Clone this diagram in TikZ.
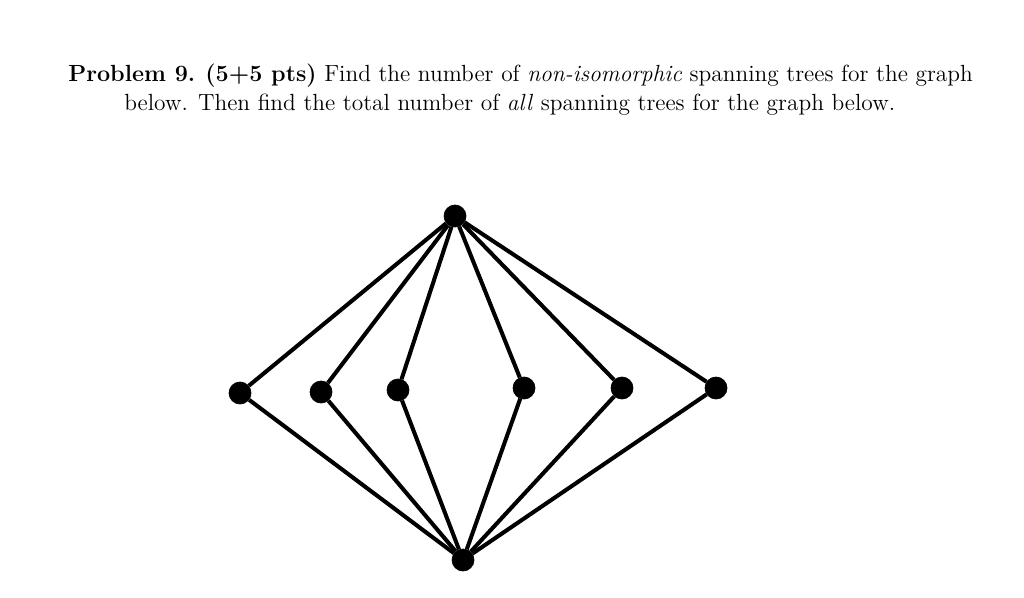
\documentclass[tikz,border=0pt]{standalone}
\usepackage{amsmath,amssymb}
\usepackage{tikz}
\usetikzlibrary{positioning}

\begin{document}
\begin{tikzpicture}[
    x=0.02cm, y=-0.02cm,
    vertex/.style={circle, fill, draw, inner sep=0pt, minimum size=0.44cm},
    edge/.style={line width=2.3pt},
    txt/.style={anchor=base west, inner sep=0pt, font=\fontsize{13.3}{16}\selectfont}
]
\useasboundingbox (0,0) rectangle (1024,598);

% problem text
\node[txt] (line1) at (68,82) {\textbf{Problem 9.} \textbf{(5+5 pts)} Find the number of \textit{non-isomorphic} spanning trees for the graph};
\node[txt] (line2) at (124,111) {below. Then find the total number of \textit{all} spanning trees for the graph below.};

% vertices
\node[vertex] (top) at (455,216) {};
\node[vertex] (m1) at (240,393) {};
\node[vertex] (m2) at (321,392) {};
\node[vertex] (m3) at (398,390) {};
\node[vertex] (m4) at (524,388) {};
\node[vertex] (m5) at (622,388) {};
\node[vertex] (m6) at (716,388) {};
\node[vertex] (bot) at (463,560) {};

% edges
\foreach \m in {m1,m2,m3,m4,m5,m6} {
  \draw[edge] (top) -- (\m);
  \draw[edge] (\m) -- (bot);
}
\end{tikzpicture}
\end{document}
